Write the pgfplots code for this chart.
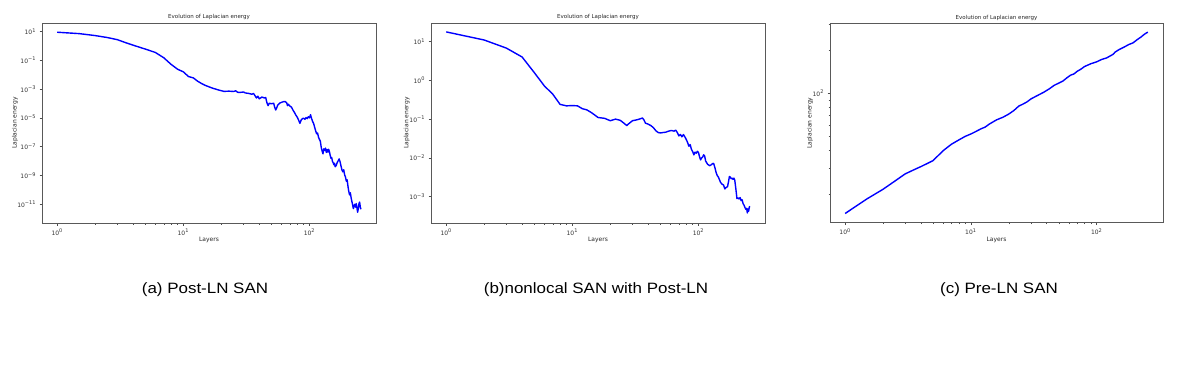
\documentclass[border=0pt]{standalone}
\usepackage{pgfplots}
\pgfplotsset{compat=1.18}
\usepackage{fontspec}
\setmainfont{DejaVu Sans}
\newfontfamily\capfont{Liberation Sans}
\begin{document}
\begin{tikzpicture}
\path (0pt,0pt) rectangle (1195pt,383pt);
% ---------- (a) Post-LN SAN ----------
\begin{axis}[
    xmode=log, ymode=log,
    scale only axis, width=334pt, height=200pt,
    anchor=south west, at={(42pt,160pt)},
    xmin=0.758, xmax=337,
    ymin=5.0e-13, ymax=38.9,
    axis line style={black!65, line width=0.6pt},
    tick style={black!70, line width=0.4pt},
    tick align=outside, major tick length=2.5pt, minor tick length=1.5pt,
    xtick pos=bottom, ytick pos=left,
    xtick={1,10,100}, xticklabels={10\textsuperscript{0},10\textsuperscript{1},10\textsuperscript{2}},
    ytick={1e1,1e-1,1e-3,1e-5,1e-7,1e-9,1e-11},
    yticklabels={10\textsuperscript{1},10\textsuperscript{−1},10\textsuperscript{−3},10\textsuperscript{−5},10\textsuperscript{−7},10\textsuperscript{−9},10\textsuperscript{−11}},
    yminorticks=false,
    tick label style={font=\fontsize{6}{7}\selectfont, text=black!80},
    title={Evolution of Laplacian energy},
    every axis title/.style={font=\fontsize{5.5}{7}\selectfont, text=black!85, at={(0.5,1.031)}, anchor=center},
    xlabel={Layers},
    xlabel style={font=\fontsize{6}{7}\selectfont, text=black!85, at={(axis description cs:0.5,-0.085)}, anchor=center},
    ylabel={Laplacian energy},
    ylabel style={font=\fontsize{6}{7}\selectfont, text=black!85, at={(axis description cs:-0.081,0.5)}, anchor=center},
  ]
\addplot[blue, line width=1.4pt, mark=none, line join=round] table {
1 8.9
1.5 7.1
2 5.2
2.5 3.8
3 2.7
3.5 1.66
4 1.12
5 0.60
6 0.35
7 0.15
8 0.052
9 0.024
10 0.0158
11 0.0074
12 0.0060
13 0.0035
14 0.0024
15 0.00178
17 0.00117
19 8.7e-4
21 6.9e-4
23 7.2e-4
25 6.8e-4
26 7.6e-4
27 6.0e-4
28 5.8e-4
30 6.3e-4
31 5.4e-4
33 5.0e-4
35 4.4e-4
36 5.0e-4
37 3.5e-4
38 2.4e-4
39 3.2e-4
40 2.1e-4
42 2.8e-4
44 2.4e-4
45 2.6e-4
46 1.12e-4
47 7.1e-5
48 1.05e-4
50 9.5e-5
52 1.05e-4
53 5.6e-5
54 3.5e-5
55 5.0e-5
56 7.6e-5
58 1.05e-4
60 1.2e-4
62 1.32e-4
64 1.38e-4
66 1.12e-4
67 7.1e-5
68 8.9e-5
70 6.6e-5
72 5.6e-5
74 3.5e-5
76 2.4e-5
78 1.58e-5
80 1.12e-5
82 7.1e-6
84 4.2e-6
86 7.1e-6
88 8.9e-6
90 9.5e-6
92 7.9e-6
94 1.05e-5
96 8.9e-6
98 1.2e-5
100 1.0e-5
102 1.66e-5
104 8.9e-6
106 5.6e-6
108 4.0e-6
110 2.2e-6
112 1.26e-6
114 7.9e-7
116 8.9e-7
118 4.5e-7
120 3.2e-7
122 2.4e-7
124 8.9e-8
126 5.0e-8
128 3.2e-8
130 7.1e-8
132 5.6e-8
134 7.9e-8
136 4.0e-8
138 6.3e-8
140 4.2e-8
142 6.6e-8
144 4.5e-8
146 2.5e-8
148 1.58e-8
150 1.78e-8
152 1.0e-8
154 7.9e-9
156 5.6e-9
158 7.1e-9
160 4.0e-9
163 5.0e-9
166 7.9e-9
169 1.05e-8
172 1.41e-8
175 8.9e-9
178 4.5e-9
181 2.4e-9
184 1.78e-9
187 2.5e-9
190 1.12e-9
193 7.9e-10
196 4.0e-10
199 5.0e-10
202 1.78e-10
205 7.9e-11
208 4.5e-11
211 6.3e-11
214 2.8e-11
217 1.58e-11
220 8.9e-12
223 5.0e-12
226 7.9e-12
229 1.0e-11
232 6.3e-12
235 1.12e-11
238 5.6e-12
241 2.8e-12
244 5.0e-12
247 1.12e-11
250 1.41e-11
253 6.3e-12
256 4.5e-12
};
\end{axis}
% ---------- (b) nonlocal SAN with Post-LN ----------
\begin{axis}[
    xmode=log, ymode=log,
    scale only axis, width=334pt, height=200pt,
    anchor=south west, at={(431pt,160pt)},
    xmin=0.758, xmax=337,
    ymin=2.09e-4, ymax=30.2,
    axis line style={black!65, line width=0.6pt},
    tick style={black!70, line width=0.4pt},
    tick align=outside, major tick length=2.5pt, minor tick length=1.5pt,
    xtick pos=bottom, ytick pos=left,
    xtick={1,10,100}, xticklabels={10\textsuperscript{0},10\textsuperscript{1},10\textsuperscript{2}},
    ytick={1e1,1e0,1e-1,1e-2,1e-3},
    yticklabels={10\textsuperscript{1},10\textsuperscript{0},10\textsuperscript{−1},10\textsuperscript{−2},10\textsuperscript{−3}},
    tick label style={font=\fontsize{6}{7}\selectfont, text=black!80},
    title={Evolution of Laplacian energy},
    every axis title/.style={font=\fontsize{5.5}{7}\selectfont, text=black!85, at={(0.5,1.031)}, anchor=center},
    xlabel={Layers},
    xlabel style={font=\fontsize{6}{7}\selectfont, text=black!85, at={(axis description cs:0.5,-0.085)}, anchor=center},
    ylabel={Laplacian energy},
    ylabel style={font=\fontsize{6}{7}\selectfont, text=black!85, at={(axis description cs:-0.073,0.5)}, anchor=center},
  ]
\addplot[blue, line width=1.4pt, mark=none, line join=round] table {
1 17.8
2 11.0
3 6.8
4 4.0
5 1.58
6 0.72
7 0.44
8 0.24
9 0.22
10 0.224
11 0.22
12 0.186
13 0.174
14 0.151
15 0.129
16 0.11
18 0.105
20 0.091
22 0.100
24 0.093
26 0.076
27 0.068
28 0.076
30 0.091
32 0.095
34 0.100
36 0.107
37 0.095
38 0.079
40 0.074
42 0.068
44 0.060
46 0.050
48 0.045
50 0.044
52 0.045
55 0.046
58 0.049
61 0.051
64 0.049
66 0.052
68 0.045
70 0.037
72 0.040
74 0.035
76 0.040
78 0.035
80 0.030
82 0.025
84 0.020
86 0.022
88 0.0166
90 0.0145
92 0.012
94 0.0141
96 0.0132
98 0.0148
100 0.0138
102 0.0107
104 0.0089
106 0.0100
108 0.0105
110 0.012
112 0.0112
114 0.0083
116 0.0076
118 0.0069
120 0.0066
123 0.0063
126 0.0066
129 0.0071
132 0.0072
135 0.0056
138 0.0042
141 0.0035
144 0.0032
147 0.0027
150 0.0023
154 0.0021
158 0.0020
162 0.00158
166 0.00174
170 0.0018
173 0.0024
176 0.0033
179 0.0032
182 0.0029
185 0.0030
188 0.0028
191 0.0030
194 0.0027
198 0.00158
202 8.9e-4
206 9.3e-4
210 8.7e-4
214 9.5e-4
218 7.9e-4
222 8.3e-4
226 6.6e-4
230 6.0e-4
234 5.2e-4
238 4.7e-4
241 5.0e-4
244 3.8e-4
247 4.8e-4
250 4.2e-4
253 5.4e-4
256 5.6e-4
};
\end{axis}
% ---------- (c) Pre-LN SAN ----------
\begin{axis}[
    xmode=log, ymode=log,
    scale only axis, width=333pt, height=199pt,
    anchor=south west, at={(830pt,160.3pt)},
    xmin=0.758, xmax=337,
    ymin=12.6, ymax=304,
    axis line style={black!65, line width=0.6pt},
    tick style={black!70, line width=0.4pt},
    tick align=outside, major tick length=2.5pt, minor tick length=1.5pt,
    xtick pos=bottom, ytick pos=left,
    xtick={1,10,100}, xticklabels={10\textsuperscript{0},10\textsuperscript{1},10\textsuperscript{2}},
    ytick={100}, yticklabels={10\textsuperscript{2}},
    minor ytick={20,30,40,50,60,70,80,90,200,300},
    tick label style={font=\fontsize{6}{7}\selectfont, text=black!80},
    title={Evolution of Laplacian energy},
    every axis title/.style={font=\fontsize{5.5}{7}\selectfont, text=black!85, at={(0.5,1.031)}, anchor=center},
    xlabel={Layers},
    xlabel style={font=\fontsize{6}{7}\selectfont, text=black!85, at={(axis description cs:0.5,-0.085)}, anchor=center},
    ylabel={Laplacian energy},
    ylabel style={font=\fontsize{6}{7}\selectfont, text=black!85, at={(axis description cs:-0.06,0.5)}, anchor=center},
  ]
\addplot[blue, line width=1.4pt, mark=none, line join=round] table {
1 14.6
1.5 18.5
2 21.5
2.5 24.6
3 27.5
3.5 29.3
4 30.9
5 34.0
6 39.8
7 44.2
8 47.3
9 50.1
10 52.1
11 54.3
12 56.5
13 58.2
14 61.0
16 65.3
18 68.1
20 71.6
22 75.9
24 81.3
26 84.1
28 87.1
30 91.2
34 96.6
38 101.6
42 107.2
46 113.5
50 117.5
54 121.6
58 127.9
62 133.4
66 136.1
70 141.9
75 146.9
80 153.1
90 160.3
100 165.2
110 171.8
120 175.8
130 182.8
135 186.2
140 192.8
150 200.4
165 208.9
180 217.8
195 223.9
210 235.5
225 245.5
240 257.0
250 263.0
256 264.9
};
\end{axis}
% ---------- captions ----------
\node[anchor=base, font=\capfont\fontsize{15}{18}\selectfont] at (205pt,89pt) {\scalebox{1.13}[1]{(a) Post-LN SAN}};
\node[anchor=base, font=\capfont\fontsize{15}{18}\selectfont] at (596pt,89pt) {\scalebox{1.13}[1]{(b)nonlocal SAN with Post-LN}};
\node[anchor=base, font=\capfont\fontsize{15}{18}\selectfont] at (999pt,89pt) {\scalebox{1.13}[1]{(c) Pre-LN SAN}};
\end{tikzpicture}
\end{document}
